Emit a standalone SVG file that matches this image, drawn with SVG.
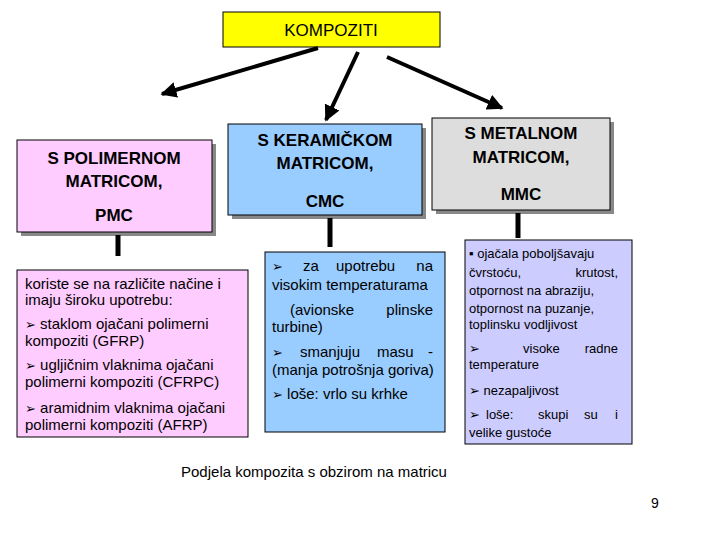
<svg xmlns="http://www.w3.org/2000/svg" width="720" height="540" viewBox="0 0 720 540">
<defs>
<marker id="ah" viewBox="0 0 10 10" refX="9" refY="5" markerWidth="4" markerHeight="4" orient="auto"><path d="M0,0 L10,5 L0,10 z" fill="#000"/></marker>
<style>
text{font-family:"Liberation Sans",Arial,sans-serif;fill:#000}
.h{font-size:17px;text-anchor:middle;font-weight:bold}
.t{font-size:13px}
.u{font-size:15px}
.e{text-anchor:end}
.b{font-family:"DejaVu Sans",sans-serif;font-size:13px}
.box{stroke:#000;stroke-width:1}
.sh{fill:#888}
.arr{stroke:#000;stroke-width:4;marker-end:url(#ah)}
.ln{stroke:#000;stroke-width:5}
</style>
</defs>
<rect width="720" height="540" fill="#fff"/>
<g id="kompoziti"><rect class="box" x="223" y="12" width="217" height="35" fill="#ffff00"/><text x="331" y="36" font-size="17" text-anchor="middle">KOMPOZITI</text></g>
<g id="pmc"><rect class="sh" x="21" y="144" width="195" height="92"/><rect class="box" x="17" y="140" width="195" height="92" fill="#ffccff"/>
<text class="h" x="114" y="164">S POLIMERNOM</text><text class="h" x="114" y="187">MATRICOM,</text><text class="h" x="114" y="221">PMC</text></g>
<g id="cmc"><rect class="sh" x="232" y="128" width="194" height="91"/><rect class="box" x="228" y="124" width="194" height="91" fill="#99ccff"/>
<text class="h" x="325" y="146">S KERAMIČKOM</text><text class="h" x="325" y="169">MATRICOM,</text><text class="h" x="325" y="207">CMC</text></g>
<g id="mmc"><rect class="sh" x="436" y="122" width="178" height="92"/><rect class="box" x="432" y="118" width="178" height="92" fill="#dddddd"/>
<text class="h" x="521" y="139">S METALNOM</text><text class="h" x="521" y="163">MATRICOM,</text><text class="h" x="521" y="200">MMC</text></g>
<g id="connectors">
<line class="arr" x1="318" y1="48" x2="162" y2="94"/>
<line class="arr" x1="358" y1="52" x2="326" y2="120"/>
<line class="arr" x1="387" y1="57" x2="502" y2="108"/>
<line class="ln" x1="118" y1="235" x2="118" y2="256"/>
<line class="ln" x1="330" y1="218" x2="330" y2="247"/>
<line class="ln" x1="518" y1="213" x2="518" y2="238"/>
</g>
<g id="pmc-detail"><rect class="box" x="17" y="270" width="231" height="167" fill="#ffccff"/>
<text class="u" x="25" y="289">koriste se na različite načine i</text>
<text class="u" x="25" y="305">imaju široku upotrebu:</text>
<text class="u" x="25" y="329"><tspan class="b">➢</tspan> staklom ojačani polimerni</text>
<text class="u" x="25" y="346">kompoziti (GFRP)</text>
<text class="u" x="25" y="370"><tspan class="b">➢</tspan> ugljičnim vlaknima ojačani</text>
<text class="u" x="25" y="387">polimerni kompoziti (CFRPC)</text>
<text class="u" x="25" y="413"><tspan class="b">➢</tspan> aramidnim vlaknima ojačani</text>
<text class="u" x="25" y="430">polimerni kompoziti (AFRP)</text></g>
<g id="cmc-detail"><rect class="box" x="265" y="252" width="180" height="180" fill="#99ccff"/>
<text class="b" x="272" y="271">➢</text><text class="u" x="303" y="271">za</text><text class="u" x="336" y="271">upotrebu</text><text class="u e" x="433" y="271">na</text>
<text class="u" x="272" y="290">visokim temperaturama</text>
<text class="u" x="290" y="315">(avionske</text><text class="u e" x="433" y="315">plinske</text>
<text class="u" x="272" y="332">turbine)</text>
<text class="b" x="272" y="357">➢</text><text class="u" x="300" y="357">smanjuju</text><text class="u" x="377" y="357">masu</text><text class="u e" x="433" y="357">-</text>
<text class="u" x="272" y="375">(manja potrošnja goriva)</text>
<text class="u" x="272" y="399"><tspan class="b">➢</tspan> loše: vrlo su krhke</text></g>
<g id="mmc-detail"><rect class="box" x="465" y="240" width="167" height="204" fill="#ccccff"/>
<text class="t" x="469" y="258">▪ ojačala poboljšavaju</text>
<text class="t" x="469" y="277">čvrstoću,</text><text class="t e" x="618" y="277">krutost,</text>
<text class="t" x="469" y="295">otpornost na abraziju,</text>
<text class="t" x="469" y="313">otpornost na puzanje,</text>
<text class="t" x="469" y="329">toplinsku vodljivost</text>
<text class="b" x="469" y="353">➢</text><text class="t" x="523" y="353">visoke</text><text class="t e" x="618" y="353">radne</text>
<text class="t" x="469" y="369">temperature</text>
<text class="t" x="469" y="395"><tspan class="b">➢</tspan> nezapaljivost</text>
<text class="b" x="469" y="419">➢</text><text class="t" x="486" y="419">loše:</text><text class="t" x="538" y="419">skupi</text><text class="t" x="584" y="419">su</text><text class="t e" x="618" y="419">i</text>
<text class="t" x="469" y="437">velike gustoće</text></g>
<text x="314" y="477" font-size="15" text-anchor="middle">Podjela kompozita s obzirom na matricu</text>
<text x="655" y="508" font-size="14" text-anchor="middle">9</text>
</svg>
